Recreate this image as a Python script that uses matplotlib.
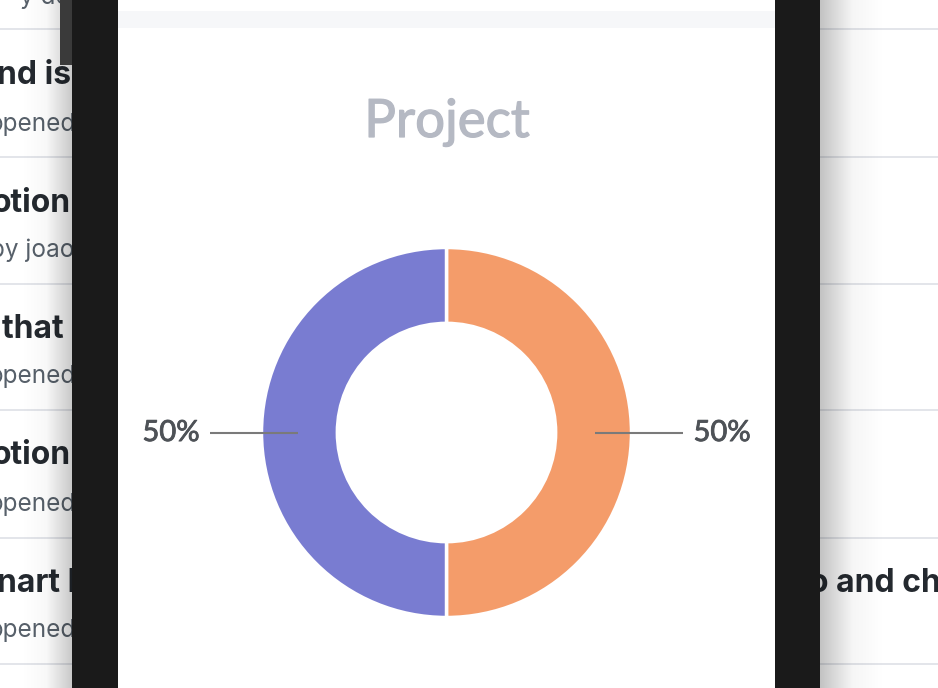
import numpy as np
import matplotlib
matplotlib.use("Agg")
import matplotlib.pyplot as plt
import matplotlib.patheffects as pe
from matplotlib.patches import Rectangle
from matplotlib.colors import LinearSegmentedColormap

W, H = 938, 688
title = "Project"
slice_values = [50, 50]
slice_colors = ["#F49C6A", "#797CD1"]
slice_labels = ["50%", "50%"]
left_heads = [("nd iss", -3, 84), ("otion", -8, 212), ("that p", 2, 338), ("otion", -8, 464), ("nart b", -3, 592)]
left_subs = [("opened", -11, 131), ("by joao", -10, 257), ("opened", -11, 383), ("opened", -11, 511), ("opened", -11, 637)]
rule_ys = [29, 157, 284, 410, 538, 664]

fig = plt.figure(figsize=(W / 100, H / 100), dpi=100, facecolor="white")
bg = fig.add_axes([0, 0, 1, 1])
bg.set_xlim(0, W)
bg.set_ylim(H, 0)
bg.axis("off")

# page rules behind the phone
for y in rule_ys:
    bg.plot([0, W], [y, y], color="#E1E3E8", lw=1.3, zorder=1, solid_capstyle="butt")

# page text, cut off by the phone
left_clip = Rectangle((0, 0), 73, H, transform=bg.transData)
right_clip = Rectangle((820, 0), 118, H, transform=bg.transData)
for s, x, y in left_heads:
    t = bg.text(x, y, s, family="Inter", fontsize=23, fontweight="bold", color="#24292F",
                ha="left", va="baseline", zorder=2)
    t.set_clip_path(left_clip)
for s, x, y in left_subs:
    t = bg.text(x, y, s, family="Inter", fontsize=17.5, color="#57606A",
                ha="left", va="baseline", zorder=2)
    t.set_clip_path(left_clip)
t = bg.text(809, 592, "o and ch", family="Inter", fontsize=23, fontweight="bold",
            color="#24292F", ha="left", va="baseline", zorder=2)
t.set_clip_path(right_clip)
t = bg.text(20, 4, "y dep", family="Inter", fontsize=17.5, color="#57606A", va="baseline", zorder=2)
t.set_clip_path(left_clip)

# phone shadows
sh_l = LinearSegmentedColormap.from_list("l", [(0, 0, 0, 0), (0, 0, 0, 0.03), (0, 0, 0, 0.22)])
sh_r = LinearSegmentedColormap.from_list("r", [(0, 0, 0, 0.24), (0, 0, 0, 0.04), (0, 0, 0, 0)])
ramp = np.linspace(0, 1, 128).reshape(1, -1)
bg.imshow(ramp, extent=(20, 73, H, 0), cmap=sh_l, aspect="auto", zorder=3, vmin=0, vmax=1)
bg.imshow(ramp, extent=(820, 885, H, 0), cmap=sh_r, aspect="auto", zorder=3, vmin=0, vmax=1)
bg.set_xlim(0, W)
bg.set_ylim(H, 0)

# phone body
bg.add_patch(Rectangle((60, 0), 13, 65, fc="#3A3A3A", ec="none", zorder=4))
bg.add_patch(Rectangle((72, 0), 46, H, fc="#1A1A1A", ec="none", zorder=5))
bg.add_patch(Rectangle((775, 0), 45, H, fc="#1A1A1A", ec="none", zorder=5))
bg.add_patch(Rectangle((118, 0), 657, H, fc="white", ec="none", zorder=4))
bg.add_patch(Rectangle((118, 11), 657, 17, fc="#F6F7F9", ec="none", zorder=5))

# title
bg.text(447, 137, title, family="Lato", fontsize=38, color="#B5B9C3",
        ha="center", va="baseline", zorder=6,
        path_effects=[pe.withStroke(linewidth=0.9, foreground="#B5B9C3")])

# donut
cx, cy, R = 446.5, 432.5, 185
ax = fig.add_axes([(cx - R) / W, 1 - (cy + R) / H, 2 * R / W, 2 * R / H], zorder=2)
ax.patch.set_alpha(0)
wedges, _ = ax.pie(slice_values, colors=slice_colors, startangle=90, counterclock=False, radius=1,
                   wedgeprops=dict(width=0.41, edgecolor="white", linewidth=2.5))
ax.set_xlim(-1, 1)
ax.set_ylim(-1, 1)

# leader lines and labels
for w, lab in zip(wedges, slice_labels):
    a = np.deg2rad((w.theta1 + w.theta2) / 2)
    sx = np.sign(np.cos(a))
    ax.plot([0.805 * sx, 1.28 * sx], [0, 0], color="#7A7A7A", lw=1.5, solid_capstyle="butt", clip_on=False)
    ax.text(1.335 * sx, -0.003, lab, family="Lato", fontsize=21, color="#4E5257",
            ha="left" if sx > 0 else "right", va="center", clip_on=False,
            path_effects=[pe.withStroke(linewidth=0.6, foreground="#4E5257")])

fig.savefig("out.png", dpi=100)
